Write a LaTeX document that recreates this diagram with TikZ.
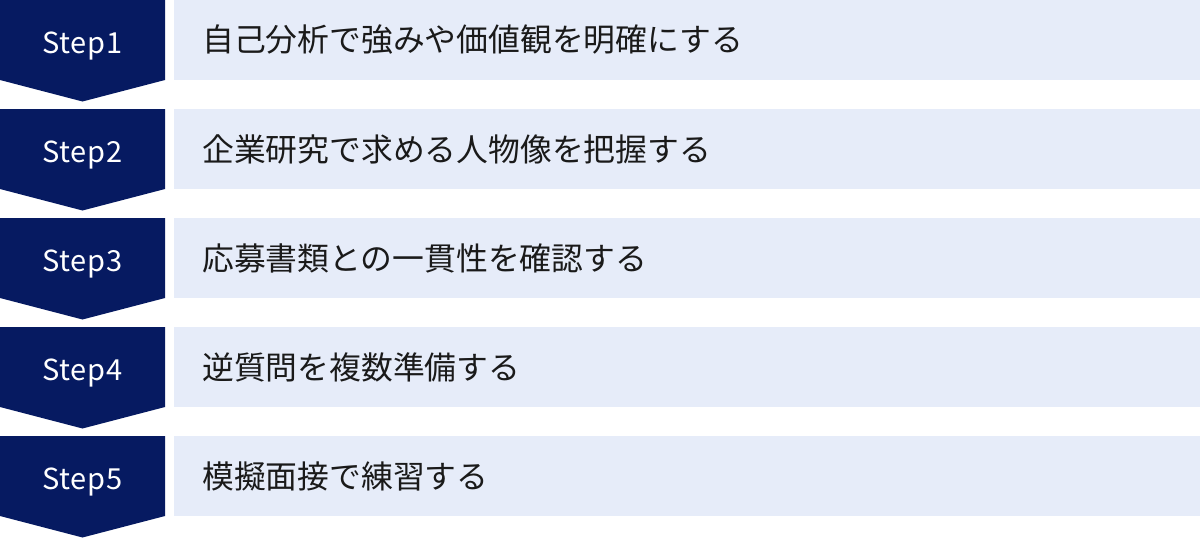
\documentclass[tikz,border=0pt]{standalone}
\usepackage{fontspec}
\newfontfamily\jp{Noto Sans CJK JP}
\newfontfamily\steplabelfont{Noto Sans CJK JP}[LetterSpace=2]
\definecolor{navy}{HTML}{061A61}
\definecolor{paleblue}{HTML}{E6ECF9}
\definecolor{ink}{HTML}{1A1A1A}
\tikzset{
  chevron/.style={fill=navy, draw=none},
  bar/.style={fill=paleblue, draw=none},
  steplabel/.style={text=white, font=\steplabelfont\fontsize{29}{34}\selectfont, inner sep=0pt, anchor=base},
  steptext/.style={text=ink, font=\jp\fontsize{31.8}{36}\selectfont, inner sep=0pt, anchor=west}
}
\begin{document}
\begin{tikzpicture}[x=1pt,y=-1pt]
\useasboundingbox (0,0) rectangle (1200,538);
\foreach \i/\lab/\txt in {0/Step1/自己分析で強みや価値観を明確にする,
                          1/Step2/企業研究で求める人物像を把握する,
                          2/Step3/応募書類との一貫性を確認する,
                          3/Step4/逆質問を複数準備する,
                          4/Step5/模擬面接で練習する}{
  \pgfmathsetmacro{\t}{109*\i}
  \fill[chevron] (0,\t) -- (165,\t) -- (165,\t+80) -- (82.5,\t+101.5) -- (0,\t+80) -- cycle;
  \fill[bar] (174,\t) rectangle (1200,\t+80);
  \node[steplabel] (s\i) at (82.5,\t+53) {\lab};
  \node[steptext] (t\i) at (202,\t+40) {\txt};
}
\end{tikzpicture}
\end{document}
